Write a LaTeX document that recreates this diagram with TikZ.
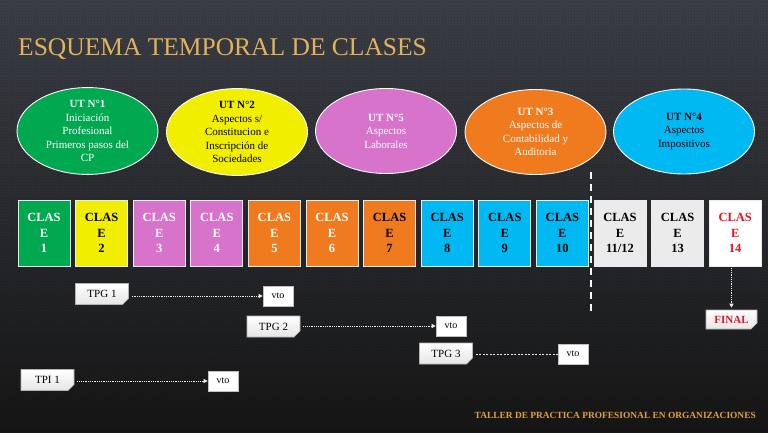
\documentclass[tikz,border=0pt]{standalone}
\usepackage{fontspec}
\setmainfont{Liberation Serif}
\usetikzlibrary{shapes.geometric,shapes.misc,arrows.meta,patterns}
\definecolor{gold}{RGB}{226,178,90}
\definecolor{footgold}{RGB}{222,160,60}
\definecolor{cgreen}{RGB}{0,168,80}
\definecolor{cyellow}{RGB}{242,238,0}
\definecolor{cpink}{RGB}{216,115,204}
\definecolor{corange}{RGB}{240,122,30}
\definecolor{ccyan}{RGB}{0,185,242}
\definecolor{cgray}{RGB}{235,235,235}
\definecolor{cred}{RGB}{230,20,30}
\definecolor{bgtop}{RGB}{60,63,71}
\definecolor{bgbot}{RGB}{22,22,22}
\tikzset{
  ut/.style={ellipse, draw=white, line width=0.9pt, minimum width=141pt, minimum height=85pt,
    inner sep=0pt, align=center, font=\fontsize{11}{13.5}\selectfont},
  clase/.style={rectangle, draw=white!85!gray, line width=0.8pt, minimum width=52pt, minimum height=66pt,
    inner sep=0pt, align=center, font=\fontsize{12.5}{15.5}\selectfont\bfseries},
  tp/.style={chamfered rectangle, chamfered rectangle corners=south east, chamfered rectangle xsep=3pt,
    chamfered rectangle ysep=3pt, draw=gray!60, line width=0.6pt, top color=white, bottom color=gray!20,
    minimum width=53pt, minimum height=21pt, inner sep=0pt, font=\fontsize{11}{13}\selectfont},
  vto/.style={rectangle, draw=gray!50, line width=0.6pt, fill=white, minimum width=30pt, minimum height=20pt,
    inner sep=0pt, font=\fontsize{10}{12}\selectfont},
  conn/.style={densely dotted, white!85!gray, line width=0.8pt, -{Triangle[length=4pt,width=4pt]}},
}
\begin{document}
\begin{tikzpicture}[x=1pt,y=-1pt]
\shade[top color=bgtop, bottom color=bgbot] (0,0) rectangle (768,433);
\fill[pattern=crosshatch dots, pattern color=black, opacity=0.25] (0,0) rectangle (768,433);
\useasboundingbox (0,0) rectangle (768,433);

\node[anchor=base west, text=gold, font=\fontsize{25.5}{28}\selectfont, inner sep=0pt] (title) at (18,56) {ESQUEMA TEMPORAL DE CLASES};

% unidades
\node[ut, fill=cgreen, text=white] (ut1) at (87.5,131) {\textbf{UT N°1}\\Iniciación\\Profesional\\Primeros pasos del\\CP};
\node[ut, fill=cyellow, text=black] (ut2) at (237,132) {\textbf{UT N°2}\\Aspectos s/\\Constitucion e\\Inscripción de\\Sociedades};
\node[ut, fill=cpink, text=white] (ut5) at (386,131) {\textbf{UT N°5}\\Aspectos\\Laborales};
\node[ut, fill=corange, text=white] (ut3) at (535.5,132) {\textbf{UT N°3}\\Aspectos de\\Contabilidad y\\Auditoria};
\node[ut, fill=ccyan, text=black] (ut4) at (684,131.5) {\textbf{UT N°4}\\Aspectos\\Impositivos};

% clases
\node[clase, fill=cgreen, text=white] (c1) at (44,233) {CLAS\\E\\1};
\node[clase, fill=cyellow, text=black] (c2) at (101.6,233) {CLAS\\E\\2};
\node[clase, fill=cpink, text=white] (c3) at (159.2,233) {CLAS\\E\\3};
\node[clase, fill=cpink, text=white] (c4) at (216.8,233) {CLAS\\E\\4};
\node[clase, fill=corange, text=white] (c5) at (274.4,233) {CLAS\\E\\5};
\node[clase, fill=corange, text=white] (c6) at (332,233) {CLAS\\E\\6};
\node[clase, fill=corange, text=black] (c7) at (389.6,233) {CLAS\\E\\7};
\node[clase, fill=ccyan, text=black] (c8) at (447.2,233) {CLAS\\E\\8};
\node[clase, fill=ccyan, text=black] (c9) at (504.8,233) {CLAS\\E\\9};
\node[clase, fill=ccyan, text=black] (c10) at (562.4,233) {CLAS\\E\\10};
\node[clase, fill=cgray, text=black] (c11) at (620,233) {CLAS\\E\\11/12};
\node[clase, fill=cgray, text=black] (c13) at (677.6,233) {CLAS\\E\\13};
\node[clase, fill=white, text=cred] (c14) at (735.2,233) {CLAS\\E\\14};

% separador
\coordinate (dtop) at (591,172);
\coordinate (dbot) at (591,313);
\draw[white, line width=1.6pt, dash pattern=on 7pt off 5pt] (dtop) -- (dbot);

% trabajos
\node[tp] (tpg1) at (102,294) {TPG 1};
\node[vto] (v1) at (278,296) {vto};
\node[tp] (tpg2) at (273.5,326.5) {TPG 2};
\node[vto] (v2) at (451,326) {vto};
\node[tp] (tpg3) at (446,353.5) {TPG 3};
\node[vto] (v3) at (573,354) {vto};
\node[tp] (tpi1) at (47.5,380) {TPI 1};
\node[vto] (v4) at (223,381) {vto};
\node[tp, minimum width=51pt, minimum height=19pt, text=cred, font=\fontsize{11}{13}\selectfont\bfseries] (final) at (731.5,319.5) {FINAL};

\draw[conn, shorten <=3pt] (tpg1.east |- v1.west) -- (v1.west);
\draw[conn, shorten <=3pt] (tpg2.east |- v2.west) -- (v2.west);
\draw[white!80!gray, line width=0.6pt, shorten <=3pt, dash pattern=on 2pt off 1.5pt] (tpg3.east |- v3.west) -- (v3.west);
\draw[conn, shorten <=3pt] (tpi1.east |- v4.west) -- (v4.west);
\draw[conn, shorten >=2pt] (final.north |- c14.south) -- (final.north);

\node[anchor=base east, text=footgold, font=\fontsize{9.4}{11}\selectfont\bfseries, inner sep=0pt] (foot) at (756,418) {TALLER DE PRACTICA PROFESIONAL EN ORGANIZACIONES};
\end{tikzpicture}
\end{document}
